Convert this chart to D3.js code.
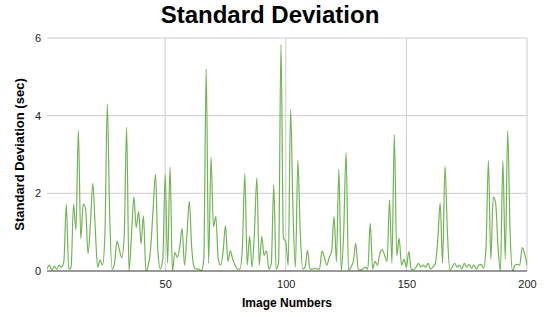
<!DOCTYPE html>
<html>
<head>
<meta charset="utf-8">
<script src="https://cdn.jsdelivr.net/npm/d3@7"></script>
<style>
    body { margin: 0; background: #fff; }
    text { font-family: "Liberation Sans", Arial, sans-serif; }
</style>
</head>
<body>
<svg id="chart" width="550" height="317"></svg>
<script>
// standard deviation per image (sec), images 1..200
let stdDev = [
    0.05, 0.15, 0.02, 0.12, 0.05, 0.15, 0.1, 0.25, 1.72, 0.05,
    0.1, 1.72, 1.06, 3.62, 0.83, 1.72, 1.6, 0.45, 1.2, 2.26,
    1.1, 0.1, 0.28, 0.15, 0.9, 4.3, 1.4, 0.05, 0.2, 0.77,
    0.55, 0.34, 0.9, 3.7, 0.0, 0.9, 1.9, 1.12, 1.53, 0.7,
    1.42, 0.0, 0.15, 0.6, 1.6, 2.49, 0.5, 0.05, 0.3, 2.48,
    0.2, 2.68, 0.0, 0.48, 0.35, 0.6, 1.1, 0.15, 0.9, 1.8,
    0.6, 0.1, 0.05, 0.05, 0.0, 0.3, 5.2, 0.2, 2.93, 1.14,
    1.4, 0.3, 0.15, 0.5, 1.17, 0.25, 0.52, 0.3, 0.15, 0.05,
    0.05, 0.6, 2.5, 0.15, 0.9, 0.1, 1.0, 2.4, 0.15, 0.89,
    0.4, 0.52, 0.05, 0.2, 2.22, 0.05, 0.2, 5.83, 0.85, 0.75,
    0.15, 4.15, 1.5, 0.1, 2.85, 1.0, 0.05, 0.1, 0.54, 0.05,
    0.05, 0.07, 0.05, 0.05, 0.52, 0.35, 0.15, 0.35, 0.5, 1.4,
    0.24, 2.62, 0.0, 1.0, 3.05, 0.02, 0.1, 0.25, 0.71, 0.05,
    0.02, 0.05, 0.1, 0.05, 1.23, 0.05, 0.25, 0.15, 0.45, 0.55,
    0.4, 0.25, 1.83, 0.2, 3.51, 0.4, 0.84, 0.15, 0.3, 0.1,
    0.5, 0.05, 0.03, 0.1, 0.2, 0.1, 0.15, 0.1, 0.2, 0.05,
    0.1, 0.2, 0.8, 1.75, 0.2, 2.7, 1.0, 0.02, 0.1, 0.2,
    0.1, 0.15, 0.05, 0.2, 0.1, 0.17, 0.07, 0.15, 0.05, 0.15,
    0.17, 0.07, 0.6, 2.84, 0.3, 1.9, 1.75, 0.6, 0.0, 2.84,
    0.3, 3.61, 1.0, 0.0, 0.15, 0.17, 0.15, 0.6, 0.45, 0.15
];
let xTicks = [50, 100, 150, 200];
let yTicks = [0, 2, 4, 6];

let data = stdDev.map((v, i) => ({img: i + 1, sd: v}));

let margin = {top: 38, right: 23, bottom: 46, left: 47};
let width = 550, height = 317;

let svg = d3.select("#chart");

let xScale = d3.scaleLinear()
    .domain([1, 200])
    .range([margin.left, width - margin.right]);

let yScale = d3.scaleLinear()
    .domain([0, 6])
    .range([height - margin.bottom, margin.top]);

// gridlines
svg.append("g")
    .selectAll("line")
    .data(yTicks.filter(d => d > 0))
    .enter()
    .append("line")
    .attr("x1", margin.left)
    .attr("x2", width - margin.right)
    .attr("y1", d => yScale(d))
    .attr("y2", d => yScale(d))
    .attr("stroke", "#cccccc")
    .attr("stroke-width", 1);

svg.append("g")
    .selectAll("line")
    .data(xTicks)
    .enter()
    .append("line")
    .attr("x1", d => xScale(d))
    .attr("x2", d => xScale(d))
    .attr("y1", margin.top)
    .attr("y2", yScale(0))
    .attr("stroke", "#cccccc")
    .attr("stroke-width", 1);

// y axis labels
let yAxis = d3.axisLeft(yScale).tickValues(yTicks).tickFormat(d3.format("d"))
    .tickSize(0).tickPadding(6);
let yG = svg.append("g")
    .attr("transform", `translate(${margin.left}, 0)`)
    .call(yAxis);
yG.select(".domain").remove();
yG.selectAll("text").attr("font-size", 11).attr("fill", "#222")
    .attr("font-family", "'Liberation Sans', Arial, sans-serif");

// x axis labels
let xAxis = d3.axisBottom(xScale).tickValues(xTicks).tickSize(0).tickPadding(9);
let xG = svg.append("g")
    .attr("transform", `translate(0, ${yScale(0)})`)
    .call(xAxis);
xG.select(".domain").remove();
xG.selectAll("text").attr("font-size", 11).attr("fill", "#222")
    .attr("font-family", "'Liberation Sans', Arial, sans-serif");

// clip
svg.append("clipPath")
    .attr("id", "plot-clip")
    .append("rect")
    .attr("x", margin.left)
    .attr("y", margin.top - 2)
    .attr("width", width - margin.left - margin.right)
    .attr("height", yScale(0) - margin.top + 2);

let line = d3.line()
    .x(d => xScale(d.img))
    .y(d => yScale(d.sd))
    .curve(d3.curveMonotoneX);

svg.append("path")
    .datum(data)
    .attr("clip-path", "url(#plot-clip)")
    .attr("d", line)
    .attr("fill", "none")
    .attr("stroke", "#72b455")
    .attr("stroke-width", 1.2);

// baseline
svg.append("line")
    .attr("x1", margin.left)
    .attr("x2", width - margin.right)
    .attr("y1", yScale(0))
    .attr("y2", yScale(0))
    .attr("stroke", "#333")
    .attr("stroke-width", 1);

// title and axis titles
svg.append("text")
    .attr("x", 270)
    .attr("y", 23)
    .attr("text-anchor", "middle")
    .attr("font-size", 24)
    .attr("font-weight", "bold")
    .text("Standard Deviation");

svg.append("text")
    .attr("x", (margin.left + width - margin.right) / 2)
    .attr("y", 307)
    .attr("text-anchor", "middle")
    .attr("font-size", 12)
    .attr("font-weight", "bold")
    .text("Image Numbers");

svg.append("text")
    .attr("transform", `translate(24, ${(margin.top + yScale(0)) / 2}) rotate(-90)`)
    .attr("text-anchor", "middle")
    .attr("font-size", 13)
    .attr("font-weight", "bold")
    .text("Standard Deviation (sec)");
</script>
</body>
</html>
